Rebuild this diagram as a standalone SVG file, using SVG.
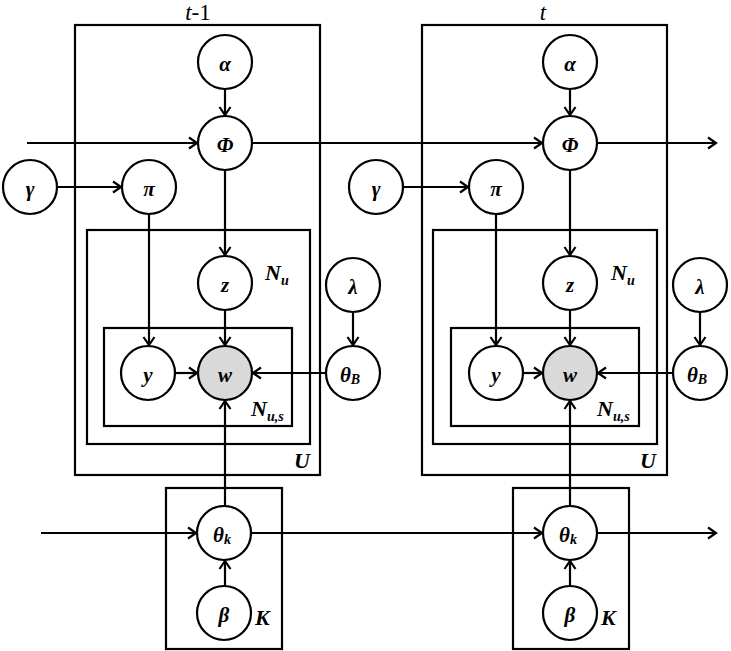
<svg xmlns="http://www.w3.org/2000/svg" width="731" height="651" viewBox="0 0 731 651">
<defs>
<marker id="arr" markerWidth="14" markerHeight="14" refX="11" refY="7" orient="auto" markerUnits="userSpaceOnUse">
<path d="M3,1.5 L11,7 L3,12.5" fill="none" stroke="#000" stroke-width="2.2"/>
</marker>
<style>
.plate{fill:none;stroke:#000;stroke-width:2.2}
.n{fill:#fff;stroke:#000;stroke-width:2.2}
.obs{fill:#d9d9d9;stroke:#000;stroke-width:2.2}
.e{fill:none;stroke:#000;stroke-width:2.2;marker-end:url(#arr)}
text{font-family:"Liberation Serif","Times New Roman",serif;font-weight:bold;font-style:italic;fill:#000}
.c{font-size:21px;text-anchor:middle;dominant-baseline:central}
.s{font-size:14px}
.p{font-size:22px}
.ttl{font-size:23px;font-weight:normal;text-anchor:middle}
</style>
</defs>
<rect width="731" height="651" fill="#fff"/>

<g id="plates">
<rect class="plate" x="75" y="25" width="245" height="450"/>
<rect class="plate" x="87" y="230" width="223" height="214"/>
<rect class="plate" x="104" y="328" width="188" height="98"/>
<rect class="plate" x="166" y="488" width="116" height="161"/>
<rect class="plate" x="422" y="25" width="245" height="450"/>
<rect class="plate" x="433" y="230" width="224" height="214"/>
<rect class="plate" x="451" y="328" width="188" height="98"/>
<rect class="plate" x="513" y="488" width="116" height="161"/>
<text class="ttl" x="198" y="20">t<tspan font-style="normal">-1</tspan></text>
<text class="ttl" x="543" y="20">t</text>
<text class="p" x="265" y="280">N<tspan class="s" dy="5">u</tspan></text>
<text class="p" x="251" y="416">N<tspan class="s" dy="5">u,s</tspan></text>
<text class="p" x="294" y="468">U</text>
<text class="p" x="255" y="625">K</text>
<text class="p" x="611" y="280">N<tspan class="s" dy="5">u</tspan></text>
<text class="p" x="597" y="416">N<tspan class="s" dy="5">u,s</tspan></text>
<text class="p" x="640" y="468">U</text>
<text class="p" x="601" y="625">K</text>
</g>

<g id="connectors">
<line class="e" x1="27" y1="143" x2="197" y2="143"/>
<line class="e" x1="252" y1="143" x2="542" y2="143"/>
<line class="e" x1="597" y1="143" x2="716" y2="143"/>
<line class="e" x1="41" y1="533" x2="196" y2="533"/>
<line class="e" x1="251" y1="533" x2="542" y2="533"/>
<line class="e" x1="597" y1="533" x2="716" y2="533"/>
<line class="e" x1="225" y1="89" x2="225" y2="115"/>
<line class="e" x1="57" y1="187" x2="121" y2="187"/>
<line class="e" x1="225" y1="170" x2="225" y2="255"/>
<line class="e" x1="149" y1="214" x2="149" y2="345"/>
<line class="e" x1="225" y1="310" x2="225" y2="345"/>
<line class="e" x1="175" y1="373" x2="197" y2="373"/>
<line class="e" x1="326" y1="373" x2="253" y2="373"/>
<line class="e" x1="353" y1="312" x2="353" y2="345"/>
<line class="e" x1="225" y1="506" x2="225" y2="401"/>
<line class="e" x1="225" y1="586" x2="225" y2="561"/>
<line class="e" x1="570" y1="89" x2="570" y2="115"/>
<line class="e" x1="403" y1="187" x2="468" y2="187"/>
<line class="e" x1="570" y1="170" x2="570" y2="255"/>
<line class="e" x1="496" y1="214" x2="496" y2="345"/>
<line class="e" x1="570" y1="310" x2="570" y2="345"/>
<line class="e" x1="523" y1="373" x2="542" y2="373"/>
<line class="e" x1="673" y1="373" x2="598" y2="373"/>
<line class="e" x1="700" y1="312" x2="700" y2="345"/>
<line class="e" x1="570" y1="506" x2="570" y2="401"/>
<line class="e" x1="570" y1="586" x2="570" y2="561"/>
</g>

<g id="alpha1"><circle class="n" cx="225" cy="62" r="27"/><text class="c" x="225" y="64">α</text></g>
<g id="phi1"><circle class="n" cx="225" cy="143" r="27"/><text class="c" x="225" y="145">Φ</text></g>
<g id="gamma1"><circle class="n" cx="30" cy="187" r="27"/><text class="c" x="30" y="189">γ</text></g>
<g id="pi1"><circle class="n" cx="149" cy="187" r="27"/><text class="c" x="149" y="189">π</text></g>
<g id="z1"><circle class="n" cx="225" cy="283" r="27"/><text class="c" x="225" y="285" font-style="normal">z</text></g>
<g id="lambda1"><circle class="n" cx="353" cy="285" r="27"/><text class="c" x="353" y="287">λ</text></g>
<g id="y1"><circle class="n" cx="148" cy="373" r="27"/><text class="c" x="148" y="375">y</text></g>
<g id="w1"><circle class="obs" cx="225" cy="373" r="27"/><text class="c" x="225" y="375">w</text></g>
<g id="thetaB1"><circle class="n" cx="353" cy="373" r="27"/><text class="c" x="350" y="375">θ<tspan class="s" dy="4">B</tspan></text></g>
<g id="thetak1"><circle class="n" cx="224" cy="533" r="27"/><text class="c" x="222" y="535">θ<tspan class="s" dy="4">k</tspan></text></g>
<g id="beta1"><circle class="n" cx="224" cy="613" r="27"/><text class="c" x="224" y="615">β</text></g>

<g id="alpha2"><circle class="n" cx="570" cy="62" r="27"/><text class="c" x="570" y="64">α</text></g>
<g id="phi2"><circle class="n" cx="570" cy="143" r="27"/><text class="c" x="570" y="145">Φ</text></g>
<g id="gamma2"><circle class="n" cx="376" cy="187" r="27"/><text class="c" x="376" y="189">γ</text></g>
<g id="pi2"><circle class="n" cx="496" cy="187" r="27"/><text class="c" x="496" y="189">π</text></g>
<g id="z2"><circle class="n" cx="570" cy="283" r="27"/><text class="c" x="570" y="285" font-style="normal">z</text></g>
<g id="lambda2"><circle class="n" cx="700" cy="285" r="27"/><text class="c" x="700" y="287">λ</text></g>
<g id="y2"><circle class="n" cx="496" cy="373" r="27"/><text class="c" x="496" y="375">y</text></g>
<g id="w2"><circle class="obs" cx="570" cy="373" r="27"/><text class="c" x="570" y="375">w</text></g>
<g id="thetaB2"><circle class="n" cx="700" cy="373" r="27"/><text class="c" x="697" y="375">θ<tspan class="s" dy="4">B</tspan></text></g>
<g id="thetak2"><circle class="n" cx="570" cy="533" r="27"/><text class="c" x="568" y="535">θ<tspan class="s" dy="4">k</tspan></text></g>
<g id="beta2"><circle class="n" cx="570" cy="613" r="27"/><text class="c" x="570" y="615">β</text></g>
</svg>
